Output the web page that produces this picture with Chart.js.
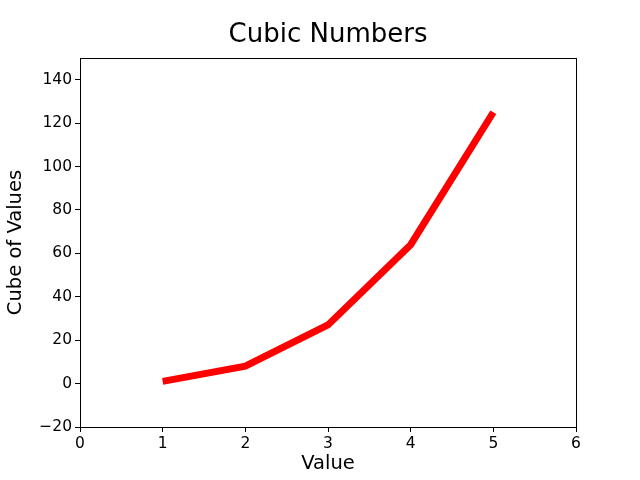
<!DOCTYPE html>
<html><head><meta charset="utf-8">
<script src="https://cdn.jsdelivr.net/npm/chart.js@4"></script>
<style>body{margin:0;background:#fff}</style></head>
<body><canvas id="c" width="640" height="480"></canvas>
<script>
const xValues=[1,2,3,4,5];
const yValues=[1,8,27,64,125];
const xTicks=[0,1,2,3,4,5,6];
const yTicks=[-20,0,20,40,60,80,100,120,140];
const F="'DejaVu Sans'";
const frame={id:'frame',afterDraw(c){const a=c.chartArea,x=c.ctx;x.save();x.strokeStyle='#000';x.lineWidth=1;x.strokeRect(Math.round(a.left)+0.5,Math.round(a.top)+0.5,Math.round(a.right-a.left),Math.round(a.bottom-a.top));x.restore();}};
new Chart(document.getElementById('c'),{type:'line',
data:{datasets:[{data:xValues.map((v,i)=>({x:v,y:yValues[i]})),borderColor:'#ff0000',borderWidth:7,pointRadius:0,tension:0,borderCapStyle:'butt'}]},
options:{responsive:false,animation:false,layout:{padding:{right:64,left:0,bottom:0,top:0}},
plugins:{legend:{display:false},tooltip:{enabled:false},
title:{display:true,fullSize:false,text:'Cubic Numbers',color:'#000',font:{family:F,size:26,weight:'normal'},padding:{top:20,bottom:6.8}}},
scales:{
x:{type:'linear',min:0,max:6,afterFit(s){s.height=53;},
afterBuildTicks(s){s.ticks=xTicks.map(v=>({value:v}));},
ticks:{color:'#000',font:{family:F,size:15.5},padding:3,maxRotation:0},
grid:{drawOnChartArea:false,color:'#000',tickLength:5},border:{color:'#000'},
title:{display:true,text:'Value',color:'#000',font:{family:F,size:19.5},padding:{top:1}}},
y:{type:'linear',min:-20,max:150,afterFit(s){s.width=80;},
afterBuildTicks(s){s.ticks=yTicks.map(v=>({value:v}));},
ticks:{color:'#000',font:{family:F,size:15.5},padding:3,callback:v=>String(v).replace('-','\u2212')},
grid:{drawOnChartArea:false,color:'#000',tickLength:5},border:{color:'#000'},
title:{display:true,text:'Cube of Values',color:'#000',font:{family:F,size:19.5},padding:{bottom:3}}}}},
plugins:[frame]});
</script></body></html>
